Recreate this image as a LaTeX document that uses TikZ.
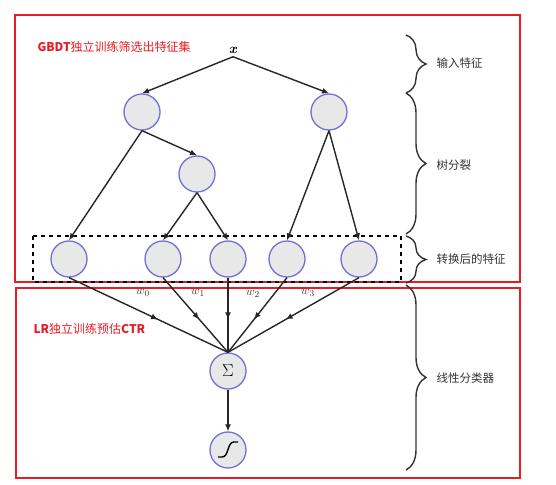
\documentclass[tikz,border=0pt]{standalone}
\usepackage{fontspec}
\newfontfamily\cjk{Noto Sans CJK SC}
\usetikzlibrary{arrows.meta,decorations.pathreplacing,decorations.markings}
\definecolor{boxred}{RGB}{232,28,36}
\definecolor{ringblue}{RGB}{112,112,214}
\definecolor{ballgray}{RGB}{232,232,232}
\definecolor{notegray}{RGB}{50,50,50}
\begin{document}
\begin{tikzpicture}[x=1pt,y=-1pt]
    \useasboundingbox (0,0) rectangle (556,484);
    % Node styles
    \tikzstyle{ball} = [circle, draw=ringblue, fill=ballgray, line width=1.3pt, minimum size=36pt, inner sep=0pt]
    \tikzstyle{edge} = [line width=1.4pt, draw=black!85, -{Latex[length=7pt,width=6pt]}]
    \tikzstyle{midedge} = [line width=1.4pt, draw=black!85, postaction={decorate}, decoration={markings, mark=at position 0.56 with {\arrow{Latex[length=7pt,width=6pt]}}}]
    \tikzstyle{note} = [anchor=west, text=notegray, font=\cjk\fontsize{11.5}{12}\selectfont]
    \tikzstyle{bracket} = [decorate, decoration={brace, amplitude=20pt}, line width=1.4pt, draw=notegray]
    \tikzstyle{redbox} = [draw=boxred, line width=1.8pt]
    \tikzstyle{redtext} = [anchor=west, text=boxred, font=\cjk\fontsize{12}{14}\selectfont]
    \tikzstyle{weight} = [font=\fontsize{13}{13}\selectfont, text=black!80]

    % Red frames
    \draw[redbox] (15,15) rectangle (520,282);
    \draw[redbox] (16,288) rectangle (520,478);
    \node[redtext] (gbdt) at (34,47) {\textbf{GBDT}独立训练筛选出特征集};
    \node[redtext] (lr) at (30,329) {\textbf{LR}独立训练预估\textbf{CTR}};

    % Dashed frame
    \draw[dashed, dash pattern=on 4pt off 4pt, line width=1.4pt] (33,236) rectangle (401,282);

    % Nodes
    \node (x) at (233,50) {\fontsize{14}{14}\selectfont\textbf{\textit{x}}};
    \node[ball] (t1) at (142,112) {};
    \node[ball] (t2) at (329,112) {};
    \node[ball] (t3) at (197,174) {};
    \node[ball] (f1) at (69,259) {};
    \node[ball] (f2) at (163,259) {};
    \node[ball] (f3) at (228,259) {};
    \node[ball] (f4) at (287,259) {};
    \node[ball] (f5) at (359,259) {};
    \node[ball] (sum) at (228,371) {\fontsize{17}{17}\selectfont$\Sigma$};
    \node[ball] (sig) at (228,450) {};
    \draw[line width=1.4pt] (218,457) -- (222,457) .. controls (229,457) and (227,442) .. (234,442) -- (238,442);

    % Weights
    \node[weight] (w0) at (143,293) {$w_0$};
    \node[weight] (w1) at (198,293) {$w_1$};
    \node[weight] (w2) at (253,294) {$w_2$};
    \node[weight] (w3) at (308,293) {$w_3$};

    % Arrows
    \draw[edge] (x.south) -- (t1.north);
    \draw[edge] (x.south) -- (t2.north);
    \draw[edge] (t1.south) -- (f1.north);
    \draw[edge] (t1.south) -- (t3.north);
    \draw[edge] (t3.south) -- (f2.north);
    \draw[edge] (t3.south) -- (f3.north);
    \draw[edge] (t2.south) -- (f4.north);
    \draw[edge] (t2.south) -- (f5.north);
    \draw[midedge] (f1.south) -- (sum.north);
    \draw[midedge] (f2.south) -- (sum.north);
    \draw[midedge] (f3.south) -- (sum.north);
    \draw[midedge] (f4.south) -- (sum.north);
    \draw[midedge] (f5.south) -- (sum.north);
    \draw[edge] (sum.south) -- (sig.north);

    % Braces
    \draw[bracket] (406,35) -- (406,93);
    \draw[bracket] (406,93) -- (406,234);
    \draw[bracket] (406,236) -- (406,283);
    \draw[bracket] (406,285) -- (406,470);
    \node[note] (in) at (433,63) {输入特征};
    \node[note] (split) at (433,165) {树分裂};
    \node[note] (trans) at (433,259) {转换后的特征};
    \node[note] (lin) at (433,378) {线性分类器};
\end{tikzpicture}
\end{document}
